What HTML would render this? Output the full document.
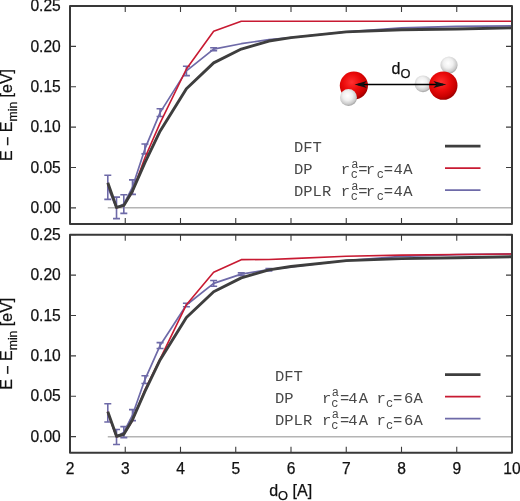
<!DOCTYPE html>
<html><head><meta charset="utf-8"><title>plot</title>
<style>
html,body{margin:0;padding:0;background:#fff;}
svg{display:block;filter:blur(0.35px);}
.tl{font-family:"Liberation Sans",Arial,sans-serif;font-size:16px;fill:#111;stroke:#111;stroke-width:0.25px;}
.tk{font-size:15.6px;}
.sub{font-size:12.8px;}
.sub2{font-size:12.2px;}
.lg{font-family:"Liberation Mono","Courier New",monospace;font-size:15.5px;fill:#484848;white-space:pre;}
.lgs{font-family:"Liberation Mono","Courier New",monospace;font-size:12px;fill:#484848;}
</style></head><body>
<svg width="520" height="501" viewBox="0 0 520 501">
<rect width="520" height="501" fill="#fff"/>
<line x1="107.79" y1="207.85" x2="512.00" y2="207.85" stroke="#b4b4b4" stroke-width="1.5"/>
<path d="M107.79 175.31V199.37M104.29 175.31h7M104.29 199.37h7" stroke="#6e6aa8" stroke-width="1.6" fill="none"/>
<path d="M116.52 197.11V218.59M113.02 197.11h7M113.02 218.59h7" stroke="#6e6aa8" stroke-width="1.6" fill="none"/>
<path d="M123.81 194.77V213.34M120.31 194.77h7M120.31 213.34h7" stroke="#6e6aa8" stroke-width="1.6" fill="none"/>
<path d="M132.49 179.83V194.37M128.99 179.83h7M128.99 194.37h7" stroke="#6e6aa8" stroke-width="1.6" fill="none"/>
<path d="M144.92 143.99V153.84M141.42 143.99h7M141.42 153.84h7" stroke="#6e6aa8" stroke-width="1.6" fill="none"/>
<path d="M160.06 108.70V116.45M156.56 108.70h7M156.56 116.45h7" stroke="#6e6aa8" stroke-width="1.6" fill="none"/>
<path d="M186.41 66.23V75.60M182.91 66.23h7M182.91 75.60h7" stroke="#6e6aa8" stroke-width="1.6" fill="none"/>
<path d="M213.65 47.74V50.65M210.15 47.74h7M210.15 50.65h7" stroke="#6e6aa8" stroke-width="1.6" fill="none"/>
<polyline points="107.79,187.34 116.52,207.85 123.81,204.06 132.49,187.10 144.92,148.91 160.06,112.58 186.41,70.92 213.65,49.20 241.27,43.71 268.90,39.67 291.00,37.49 346.25,31.84 401.50,27.80 456.75,26.43 512.00,25.86" fill="none" stroke="#6e6aa8" stroke-width="1.7" stroke-linejoin="round" stroke-linecap="round"/>
<polyline points="107.79,183.63 116.52,207.85 123.81,205.43 132.49,191.70 144.92,157.79 160.06,123.07 186.41,68.98 213.65,31.19 241.27,21.18 268.90,21.18 291.00,21.18 346.25,21.18 401.50,21.18 456.75,21.18 512.00,21.18" fill="none" stroke="#c81a32" stroke-width="1.6" stroke-linejoin="round" stroke-linecap="round"/>
<polyline points="107.79,182.82 116.52,207.45 123.81,205.43 132.49,190.90 144.92,162.64 160.06,131.15 186.41,88.68 213.65,62.92 241.27,49.03 268.90,41.04 291.00,37.65 346.25,31.84 401.50,29.82 456.75,28.93 512.00,27.88" fill="none" stroke="#3e3e3e" stroke-width="2.9" stroke-linejoin="round" stroke-linecap="butt"/>
<path d="M70.00 207.85h6M70.00 167.48h6M512.00 167.48h-6M70.00 127.11h6M512.00 127.11h-6M70.00 86.74h6M512.00 86.74h-6M70.00 46.37h6M512.00 46.37h-6M70.00 6.00h6M512.00 6.00h-6M125.25 6.00v6M125.25 224.00v-6M180.50 6.00v6M180.50 224.00v-6M235.75 6.00v6M235.75 224.00v-6M291.00 6.00v6M291.00 224.00v-6M346.25 6.00v6M346.25 224.00v-6M401.50 6.00v6M401.50 224.00v-6M456.75 6.00v6M456.75 224.00v-6" stroke="#3c3c3c" stroke-width="1.1" fill="none"/>
<rect x="70.00" y="6.00" width="442.00" height="218.00" fill="none" stroke="#383838" stroke-width="2" stroke-linejoin="round"/>
<text class="tl tk" x="60.8" y="213.05" text-anchor="end">0.00</text>
<text class="tl tk" x="60.8" y="172.68" text-anchor="end">0.05</text>
<text class="tl tk" x="60.8" y="132.31" text-anchor="end">0.10</text>
<text class="tl tk" x="60.8" y="91.94" text-anchor="end">0.15</text>
<text class="tl tk" x="60.8" y="51.57" text-anchor="end">0.20</text>
<text class="tl tk" x="60.8" y="11.20" text-anchor="end">0.25</text>
<text class="tl" transform="translate(11.5 115.00) rotate(-90)" text-anchor="middle">E <tspan dy="1.3">−</tspan><tspan dy="-1.3"> E</tspan><tspan class="sub2" dy="5.4">min</tspan><tspan dy="-5.4"> [eV]</tspan></text>
<line x1="107.79" y1="436.65" x2="512.00" y2="436.65" stroke="#b4b4b4" stroke-width="1.5"/>
<path d="M107.79 403.79V422.04M104.29 403.79h7M104.29 422.04h7" stroke="#6e6aa8" stroke-width="1.6" fill="none"/>
<path d="M116.52 429.47V444.48M113.02 429.47h7M113.02 444.48h7" stroke="#6e6aa8" stroke-width="1.6" fill="none"/>
<path d="M123.81 426.64V437.62M120.31 426.64h7M120.31 437.62h7" stroke="#6e6aa8" stroke-width="1.6" fill="none"/>
<path d="M132.49 409.60V420.58M128.99 409.60h7M128.99 420.58h7" stroke="#6e6aa8" stroke-width="1.6" fill="none"/>
<path d="M144.92 375.69V383.44M141.42 375.69h7M141.42 383.44h7" stroke="#6e6aa8" stroke-width="1.6" fill="none"/>
<path d="M160.06 342.67V348.48M156.56 342.67h7M156.56 348.48h7" stroke="#6e6aa8" stroke-width="1.6" fill="none"/>
<path d="M186.41 303.27V306.82M182.91 303.27h7M182.91 306.82h7" stroke="#6e6aa8" stroke-width="1.6" fill="none"/>
<path d="M213.65 280.50V286.31M210.15 280.50h7M210.15 286.31h7" stroke="#6e6aa8" stroke-width="1.6" fill="none"/>
<path d="M241.27 272.91V275.33M237.77 272.91h7M237.77 275.33h7" stroke="#6e6aa8" stroke-width="1.6" fill="none"/>
<path d="M268.90 268.47V270.89M265.40 268.47h7M265.40 270.89h7" stroke="#6e6aa8" stroke-width="1.6" fill="none"/>
<polyline points="107.79,412.91 116.52,436.97 123.81,432.13 132.49,415.09 144.92,379.57 160.06,345.58 186.41,305.04 213.65,283.41 241.27,274.12 268.90,269.68 291.00,266.93 346.25,260.48 401.50,256.28 456.75,254.58 512.00,253.94" fill="none" stroke="#6e6aa8" stroke-width="1.7" stroke-linejoin="round" stroke-linecap="round"/>
<polyline points="107.79,412.43 116.52,436.65 123.81,434.23 132.49,420.50 144.92,389.82 160.06,359.14 186.41,304.64 213.65,272.26 241.27,259.67 268.90,259.43 291.00,258.62 346.25,256.28 401.50,255.15 456.75,254.50 512.00,254.02" fill="none" stroke="#c81a32" stroke-width="1.6" stroke-linejoin="round" stroke-linecap="round"/>
<polyline points="107.79,411.62 116.52,436.25 123.81,434.23 132.49,419.70 144.92,391.44 160.06,359.95 186.41,317.48 213.65,291.72 241.27,277.83 268.90,269.84 291.00,266.45 346.25,260.64 401.50,258.62 456.75,257.73 512.00,256.68" fill="none" stroke="#3e3e3e" stroke-width="2.9" stroke-linejoin="round" stroke-linecap="butt"/>
<path d="M70.00 436.65h6M70.00 396.28h6M512.00 396.28h-6M70.00 355.91h6M512.00 355.91h-6M70.00 315.54h6M512.00 315.54h-6M70.00 275.17h6M512.00 275.17h-6M70.00 234.80h6M512.00 234.80h-6M125.25 234.80v6M125.25 452.80v-6M180.50 234.80v6M180.50 452.80v-6M235.75 234.80v6M235.75 452.80v-6M291.00 234.80v6M291.00 452.80v-6M346.25 234.80v6M346.25 452.80v-6M401.50 234.80v6M401.50 452.80v-6M456.75 234.80v6M456.75 452.80v-6" stroke="#3c3c3c" stroke-width="1.1" fill="none"/>
<rect x="70.00" y="234.80" width="442.00" height="218.00" fill="none" stroke="#383838" stroke-width="2" stroke-linejoin="round"/>
<text class="tl tk" x="60.8" y="441.85" text-anchor="end">0.00</text>
<text class="tl tk" x="60.8" y="401.48" text-anchor="end">0.05</text>
<text class="tl tk" x="60.8" y="361.11" text-anchor="end">0.10</text>
<text class="tl tk" x="60.8" y="320.74" text-anchor="end">0.15</text>
<text class="tl tk" x="60.8" y="280.37" text-anchor="end">0.20</text>
<text class="tl tk" x="60.8" y="240.00" text-anchor="end">0.25</text>
<text class="tl" transform="translate(11.5 343.80) rotate(-90)" text-anchor="middle">E <tspan dy="1.3">−</tspan><tspan dy="-1.3"> E</tspan><tspan class="sub2" dy="5.4">min</tspan><tspan dy="-5.4"> [eV]</tspan></text>
<text class="lg" x="293.90 303.25 312.60" y="152.30">DFT</text>
<line x1="445.00" y1="146.10" x2="480.50" y2="146.10" stroke="#3e3e3e" stroke-width="2.8"/>
<text class="lg"><tspan x="293.90 303.25" y="174.30">DP   </tspan><tspan x="340.80" y="174.30">r</tspan><tspan class="lgs" x="351.20" y="167.90">a</tspan><tspan class="lgs" x="350.80" y="178.20">c</tspan><tspan x="358.20 365.70" y="174.30">=r</tspan><tspan class="lgs" x="376.80" y="178.20">c</tspan><tspan x="383.80 393.60 403.30" y="174.30">=4A</tspan></text>
<line x1="445.00" y1="168.10" x2="480.50" y2="168.10" stroke="#c81a32" stroke-width="1.6"/>
<text class="lg"><tspan x="293.90 303.25 312.60 321.95" y="196.30">DPLR </tspan><tspan x="340.80" y="196.30">r</tspan><tspan class="lgs" x="351.20" y="189.90">a</tspan><tspan class="lgs" x="350.80" y="200.20">c</tspan><tspan x="358.20 365.70" y="196.30">=r</tspan><tspan class="lgs" x="376.80" y="200.20">c</tspan><tspan x="383.80 393.60 403.30" y="196.30">=4A</tspan></text>
<line x1="445.00" y1="190.10" x2="480.50" y2="190.10" stroke="#6e6aa8" stroke-width="1.6"/>
<text class="lg" x="274.90 284.25 293.60" y="380.80">DFT</text>
<line x1="445.00" y1="374.60" x2="480.50" y2="374.60" stroke="#3e3e3e" stroke-width="2.8"/>
<text class="lg"><tspan x="274.90 284.25" y="402.80">DP   </tspan><tspan x="322.10" y="402.80">r</tspan><tspan class="lgs" x="331.80" y="396.40">a</tspan><tspan class="lgs" x="331.20" y="406.90">c</tspan><tspan x="339.90 348.30 358.80 367.00 376.50" y="402.80">=4A r</tspan><tspan class="lgs" x="385.90" y="406.90">c</tspan><tspan x="393.10 403.90 413.60" y="402.80">=6A</tspan></text>
<line x1="445.00" y1="396.60" x2="480.50" y2="396.60" stroke="#c81a32" stroke-width="1.6"/>
<text class="lg"><tspan x="274.90 284.25 293.60 302.95" y="424.80">DPLR </tspan><tspan x="322.10" y="424.80">r</tspan><tspan class="lgs" x="331.80" y="418.40">a</tspan><tspan class="lgs" x="331.20" y="428.90">c</tspan><tspan x="339.90 348.30 358.80 367.00 376.50" y="424.80">=4A r</tspan><tspan class="lgs" x="385.90" y="428.90">c</tspan><tspan x="393.10 403.90 413.60" y="424.80">=6A</tspan></text>
<line x1="445.00" y1="418.60" x2="480.50" y2="418.60" stroke="#6e6aa8" stroke-width="1.6"/>
<defs>
<radialGradient id="gO" cx="0.42" cy="0.38" r="0.62">
<stop offset="0" stop-color="#ff3030"/><stop offset="0.5" stop-color="#ea0a0a"/><stop offset="0.85" stop-color="#c80000"/><stop offset="1" stop-color="#a00000"/>
</radialGradient>
<radialGradient id="gH" cx="0.45" cy="0.4" r="0.62">
<stop offset="0" stop-color="#ffffff"/><stop offset="0.45" stop-color="#f0f0f0"/><stop offset="0.8" stop-color="#cacaca"/><stop offset="1" stop-color="#9c9c9c"/>
</radialGradient>
</defs>
<circle cx="449" cy="65" r="8.6" fill="url(#gH)"/>
<circle cx="423" cy="83.8" r="8.4" fill="url(#gH)"/>
<circle cx="443.3" cy="85.6" r="14.2" fill="url(#gO)"/>
<circle cx="353.9" cy="85.6" r="14.1" fill="url(#gO)"/>
<circle cx="348.5" cy="97.4" r="8.5" fill="url(#gH)"/>
<line x1="358" y1="84.5" x2="443" y2="84.5" stroke="#000" stroke-width="1.5"/>
<path d="M446.3 84.5L433.3 80.9L436.5 84.5L433.3 88Z" fill="#111"/>
<path d="M354.6 84.6L366.8 80.9L363.6 84.6L366.8 88Z" fill="#111"/>
<text class="tl" x="391.6" y="73.8">d<tspan class="sub" dy="4.2">O</tspan></text>
<text class="tl tk" x="70.00" y="474.2" text-anchor="middle">2</text>
<text class="tl tk" x="125.25" y="474.2" text-anchor="middle">3</text>
<text class="tl tk" x="180.50" y="474.2" text-anchor="middle">4</text>
<text class="tl tk" x="235.75" y="474.2" text-anchor="middle">5</text>
<text class="tl tk" x="291.00" y="474.2" text-anchor="middle">6</text>
<text class="tl tk" x="346.25" y="474.2" text-anchor="middle">7</text>
<text class="tl tk" x="401.50" y="474.2" text-anchor="middle">8</text>
<text class="tl tk" x="456.75" y="474.2" text-anchor="middle">9</text>
<text class="tl tk" x="512.00" y="474.2" text-anchor="middle">10</text>
<text class="tl" x="269.2" y="495.8">d<tspan class="sub" dy="4.2">O</tspan><tspan dy="-4.2"> [A]</tspan></text>
</svg>
</body></html>
